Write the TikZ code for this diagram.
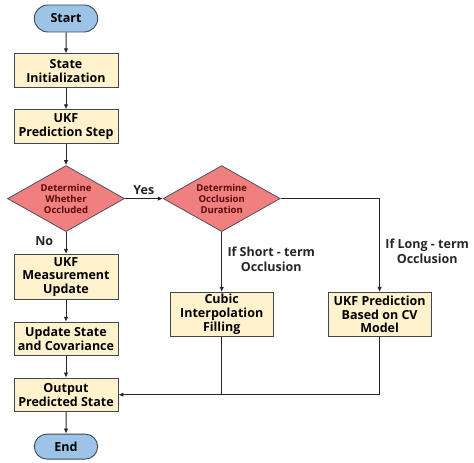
\documentclass[tikz,border=0pt]{standalone}
\usepackage{fontspec}
\setmainfont{Open Sans}
\usepackage{xcolor}
\usetikzlibrary{shapes,arrows.meta,positioning}

\definecolor{termfill}{HTML}{9DC3E6}
\definecolor{procfill}{HTML}{FFF2CC}
\definecolor{decfill}{HTML}{F07F7F}
\definecolor{edge}{HTML}{3C4858}
\definecolor{dectext}{HTML}{5A0A0A}

\tikzset{
    terminal/.style={rounded rectangle, draw=edge, fill=termfill, line width=0.9pt,
        minimum width=70pt, minimum height=27pt, font=\bfseries\fontsize{12.5}{14}\selectfont},
    process/.style={rectangle, draw=edge, fill=procfill, line width=0.9pt, align=center,
        minimum width=104pt, minimum height=34pt, inner xsep=2pt, inner ysep=1pt,
        font=\bfseries\fontsize{12.5}{13.8}\selectfont},
    decision/.style={diamond, draw=edge, fill=decfill, line width=0.7pt, align=center,
        aspect=1.77, minimum width=117pt, minimum height=66pt, inner sep=0pt,
        text=dectext, font=\bfseries\fontsize{9.5}{11}\selectfont},
    flow/.style={-{Latex[length=5pt,width=4.5pt]}, line width=1pt, black!85},
    lbl/.style={font=\bfseries\fontsize{12.5}{15}\selectfont, align=center}
}

\begin{document}
\begin{tikzpicture}[auto, node distance=22pt]
    \useasboundingbox (0,0) rectangle (474pt,463pt);

    \node [terminal] (start) at (66pt,444.5pt) {Start};
    \node [process, below=21pt of start] (init) {State\\Initialization};
    \node [process, below=21pt of init] (predict) {UKF\\Prediction Step};
    \node [decision, below=21pt of predict] (occluded) {Determine\\Whether\\Occluded};
    \node [process, below=of occluded, minimum height=45pt] (measure) {UKF\\Measurement\\Update};
    \node [process, below=22pt of measure, minimum height=33pt] (update) {Update State\\and Covariance};
    \node [process, below=22pt of update, minimum height=33pt] (output) {Output\\Predicted State};
    \node [terminal, below=22pt of output, minimum height=25pt] (end) {End};

    \node [decision, right=38pt of occluded] (duration) {Determine\\Occlusion\\Duration};
    \node [process, below=60pt of duration, minimum width=103pt, minimum height=44pt] (cubic) {Cubic\\Interpolation\\Filling};
    \node [process, right=54pt of cubic, minimum width=103pt, minimum height=44pt] (cvmodel) {UKF Prediction\\Based on CV\\Model};

    \draw [flow] (start) -- (init);
    \draw [flow] (init) -- (predict);
    \draw [flow] (predict) -- (occluded);
    \draw [flow] (occluded) -- node [lbl, left=9pt, pos=0.4] {No} (measure);
    \draw [flow] (measure) -- (update);
    \draw [flow] (update) -- (output);
    \draw [flow] (output) -- (end);

    \draw [flow] (occluded.east) -- node [lbl, above] {Yes} (duration.west);
    \draw [flow] (duration.south) -- node [lbl, right=2pt, pos=0.45] {If Short - term\\Occlusion} (cubic.north);
    \draw [flow] (duration.east) -| node [lbl, right=2pt, pos=0.78] {If Long - term\\Occlusion} (cvmodel.north);

    % merge back into the output step
    \draw [line width=1pt, black!85] (cubic.south) -- (cubic.south |- output.east);
    \draw [flow] (cvmodel.south) |- (output.east);
\end{tikzpicture}
\end{document}
